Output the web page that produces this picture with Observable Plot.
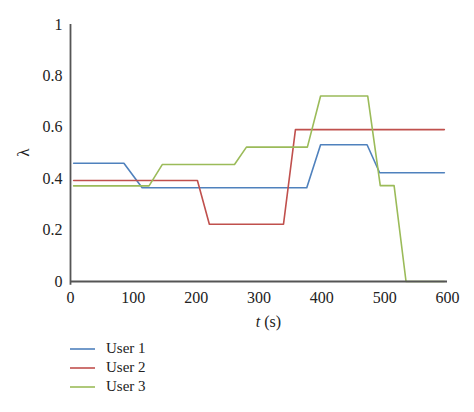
<!DOCTYPE html>
<html>
<head>
<meta charset="utf-8">
<script src="https://cdn.jsdelivr.net/npm/d3@7"></script>
<script src="https://cdn.jsdelivr.net/npm/@observablehq/plot@0.6"></script>
<style>
  body { margin: 0; background: #fff; font-family: "Liberation Serif", "DejaVu Serif", serif; }
  #legend { position: relative; height: 70px; }
  .item { position: absolute; left: 70px; display: flex; align-items: center; font-size: 15px; color: #222; }
  .item svg { margin-right: 11px; }
</style>
</head>
<body>
<div id="chart"></div>
<div id="legend"></div>
<script>
const seriesNames = ["User 1", "User 2", "User 3"];
const seriesColors = ["#4f81bd", "#c0504d", "#9bbb59"];

const user1T = [5, 85, 114, 376, 398, 472, 492, 595];
const user1V = [0.46, 0.46, 0.365, 0.365, 0.532, 0.532, 0.423, 0.423];

const user2T = [5, 202, 221, 339, 358, 595];
const user2V = [0.393, 0.393, 0.223, 0.223, 0.591, 0.591];

const user3T = [5, 125, 146, 261, 280, 377, 398, 473, 493, 515, 534, 595];
const user3V = [0.372, 0.372, 0.455, 0.455, 0.523, 0.523, 0.722, 0.722, 0.373, 0.373, 0, 0];

const xTicks = [0, 100, 200, 300, 400, 500, 600];
const yTicks = [0, 0.2, 0.4, 0.6, 0.8, 1];
const yTickLabels = ["0", "0.2", "0.4", "0.6", "0.8", "1"];

const rows = [];
[[user1T, user1V], [user2T, user2V], [user3T, user3V]].forEach(([ts, vs], i) => {
  ts.forEach((t, j) => rows.push({ series: seriesNames[i], t, v: vs[j] }));
});

const chart = Plot.plot({
  width: 474,
  height: 337,
  marginLeft: 70,
  marginRight: 27,
  marginTop: 24,
  marginBottom: 56,
  style: { fontFamily: "'Liberation Serif', 'DejaVu Serif', serif", fontSize: "16px", color: "#222", background: "#fff" },
  x: { domain: [0, 600], ticks: xTicks, label: null },
  y: { domain: [0, 1], ticks: yTicks, label: null },
  color: { domain: seriesNames, range: seriesColors },
  marks: [
    Plot.axisX({ ticks: xTicks, tickSize: 0, tickPadding: 10, tickFormat: d => String(d), label: null }),
    Plot.axisY({ ticks: yTicks, tickSize: 0, tickPadding: 8, tickFormat: d => yTickLabels[yTicks.indexOf(d)], label: null }),
    Plot.line(rows, { x: "t", y: "v", z: "series", stroke: "series", strokeWidth: 1.6 }),
    Plot.ruleY([0], { stroke: "#555", strokeWidth: 1.8 }),
    Plot.ruleX([0], { stroke: "#555", strokeWidth: 1.8, y1: -0.015, y2: 1 })
  ]
});
document.getElementById("chart").appendChild(chart);

// axis titles
const svg = d3.select(chart);
const xs = chart.scale("x"), ys = chart.scale("y");
const xt = svg.append("text")
  .attr("x", (xs.apply(0) + xs.apply(600)) / 2 + 10)
  .attr("y", 327)
  .attr("text-anchor", "middle")
  .attr("fill", "#222")
  .style("font-size", "16px");
xt.append("tspan").attr("font-style", "italic").text("t");
xt.append("tspan").text(" (s)");

svg.append("text")
  .attr("transform", `translate(29,${(ys.apply(0) + ys.apply(1)) / 2}) rotate(-90)`)
  .attr("text-anchor", "middle")
  .attr("fill", "#222")
  .style("font-size", "17px")
  .text("λ");

// legend
const legend = document.getElementById("legend");
seriesNames.forEach((name, i) => {
  const div = document.createElement("div");
  div.className = "item";
  div.style.top = (3 + i * 19) + "px";
  div.innerHTML = `<svg width="25" height="4"><line x1="0" y1="2" x2="25" y2="2" stroke="${seriesColors[i]}" stroke-width="1.6"/></svg><span>${name}</span>`;
  legend.appendChild(div);
});
</script>
</body>
</html>
